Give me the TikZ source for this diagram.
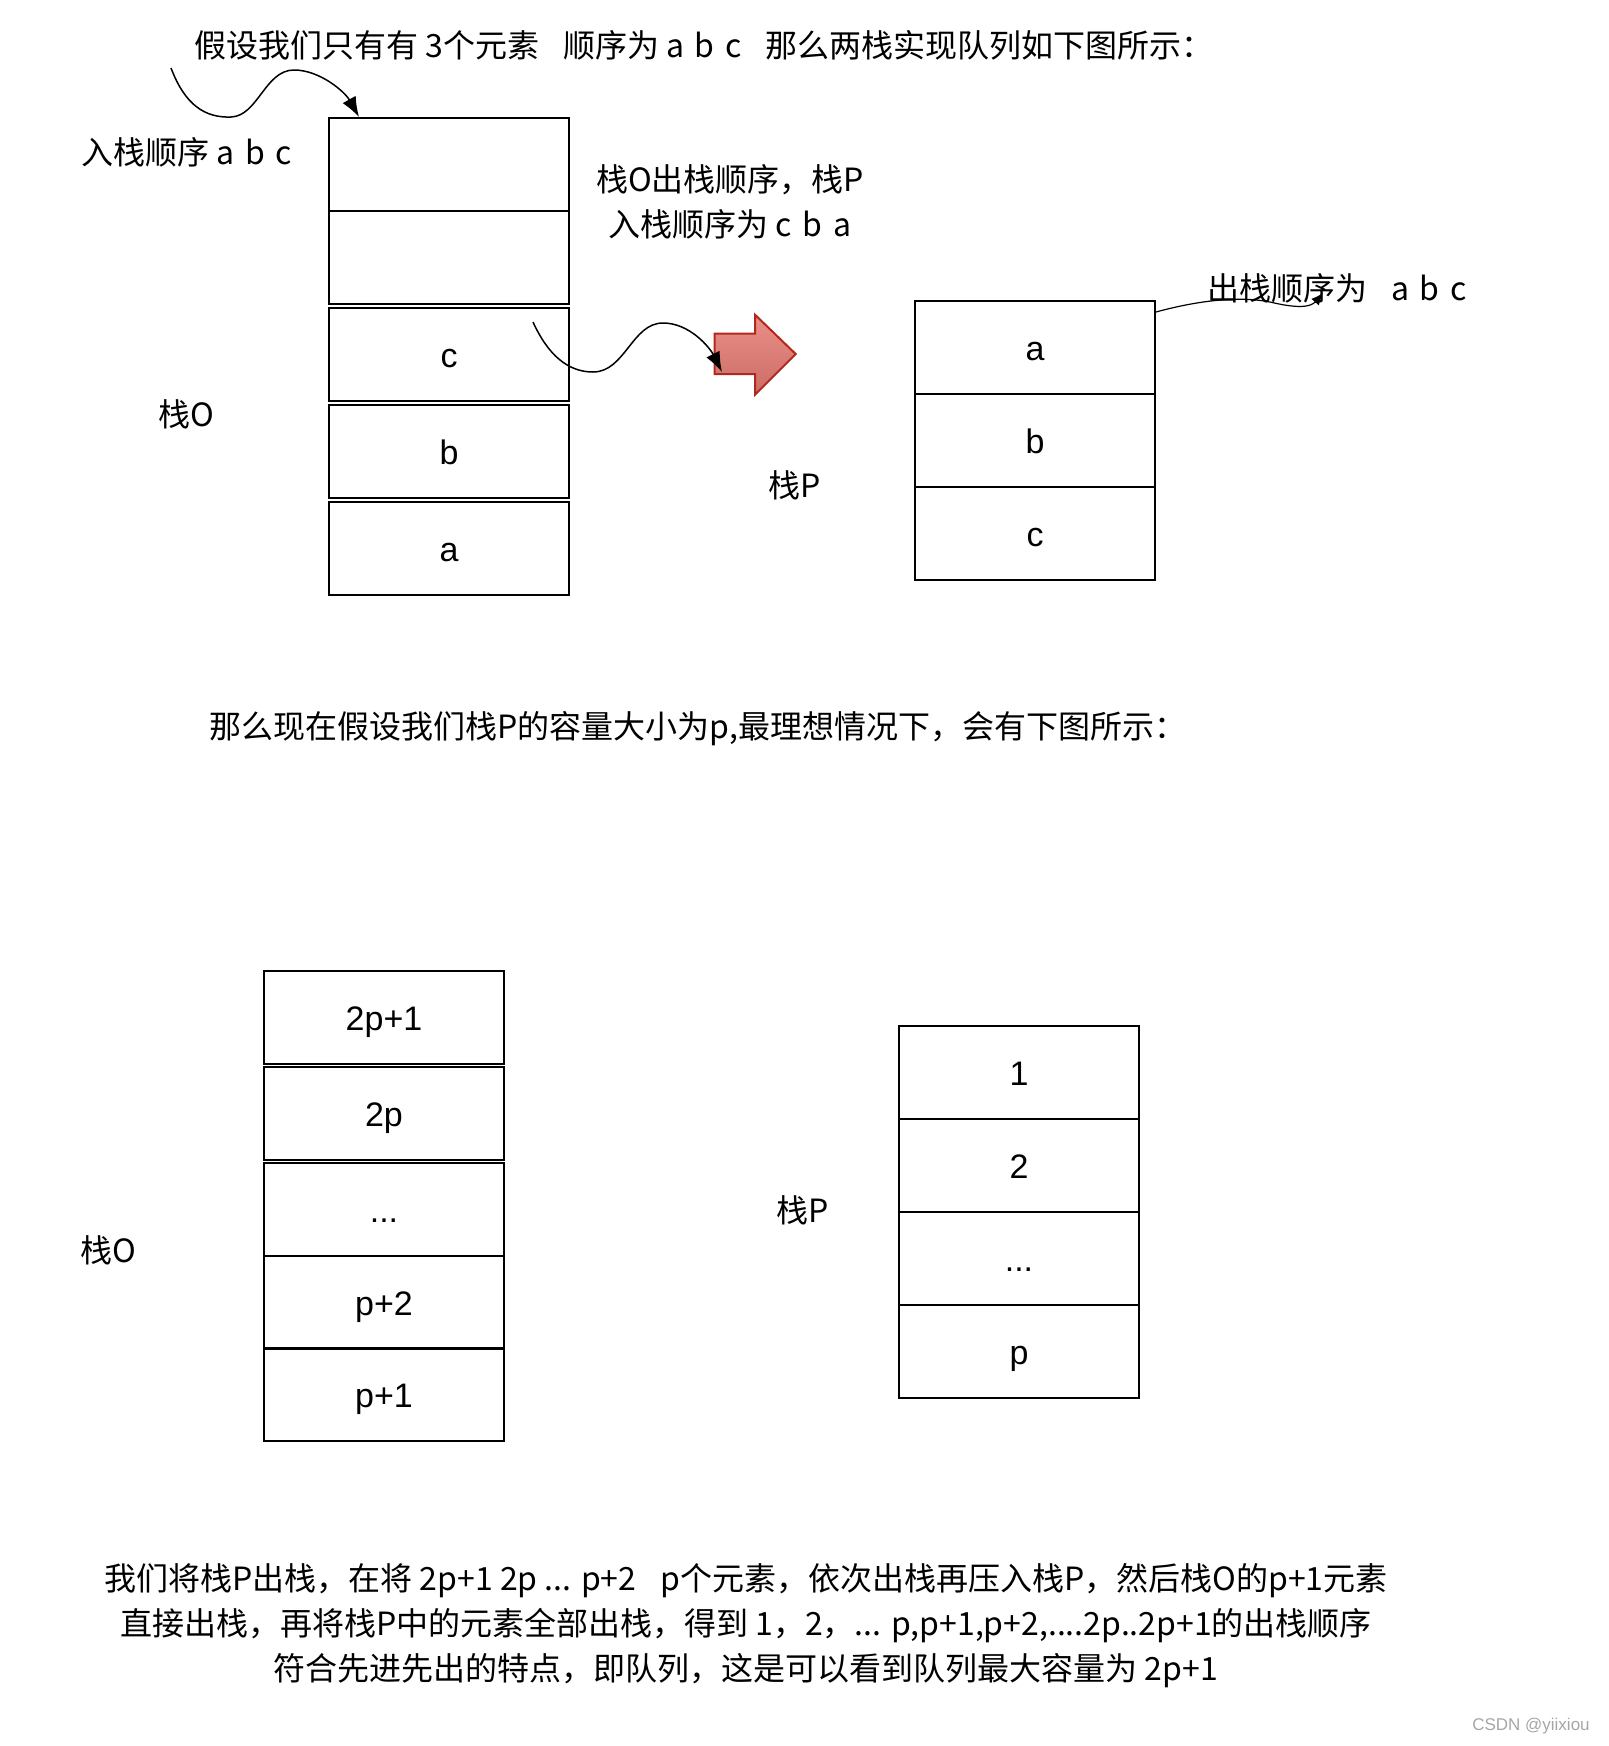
\documentclass[tikz,border=0pt]{standalone}
\usepackage{fontspec}
\setmainfont{Noto Sans CJK SC}
\newfontfamily\latinfont{Liberation Sans}
\usepackage{tikz}
\usetikzlibrary{arrows.meta}
\definecolor{arrowTop}{HTML}{EA8F88}
\definecolor{arrowBottom}{HTML}{CC6D66}
\definecolor{arrowLine}{HTML}{B3281C}

\tikzset{
	cell/.style={draw, line width=1pt, minimum width=120pt, minimum height=46.5pt, inner sep=0pt, text height=15pt, text depth=1.8pt, font=\latinfont\fontsize{17}{20}\selectfont},
	note/.style={font=\fontsize{16}{22.5}\selectfont, align=center, inner sep=0pt},
	wave/.style={line width=0.75pt, -{Latex[length=10pt,width=7.5pt]}}
}
\newcommand\gap{\hspace{0.75em}}

\begin{document}
\begin{tikzpicture}[x=0.5pt, y=-0.5pt]
	  \useasboundingbox (0,0) rectangle (1608,1746);

	  % Texts
	  \node[note] (title) at (704,45) {假设我们只有有 3个元素\gap 顺序为 a\,\,b\,\,c\gap 那么两栈实现队列如下图所示：};
	  \node[note] (pushOrder) at (187,152) {入栈顺序 a\,\,b\,\,c};
	  \node[note] (stackO) at (186,414) {栈O};
	  \node[note] (popNote) at (730,202) {栈O出栈顺序，栈P\\入栈顺序为 c\,\,b\,\,a};
	  \node[note] (popOrder) at (1337,288) {出栈顺序为\gap a\,\,b\,\,c};
	  \node[note] (stackP) at (795,485) {栈P};
	  \node[note] (midText) at (698,729) {那么现在假设我们栈P的容量大小为p,最理想情况下，会有下图所示：};
	  \node[note] (stackOlow) at (108,1250) {栈O};
	  \node[note] (stackPlow) at (803,1210) {栈P};
	  \node[note] (summary) at (746,1626) {我们将栈P出栈，在将 2p+1 2p ... p+2\gap p个元素，依次出栈再压入栈P，然后栈O的p+1元素\\直接出栈，再将栈P中的元素全部出栈，得到 1，2，... p,p+1,p+2,....2p..2p+1的出栈顺序\\符合先进先出的特点，即队列，这是可以看到队列最大容量为 2p+1};
	  \node[font=\latinfont\fontsize{8.5}{10}\selectfont, text=black!35, inner sep=0pt] (mark) at (1531,1726) {CSDN @yiixiou};

	  % Stack O, top
	  \node[cell] (O1) at (449,164.5) {};
	  \node[cell] (O2) at (449,257.5) {};
	  \node[cell] (O3) at (449,354.5) {c};
	  \node[cell] (O4) at (449,451.5) {b};
	  \node[cell] (O5) at (449,548.5) {a};

	  % Stack P, top
	  \node[cell] (P1) at (1035,347.5) {a};
	  \node[cell] (P2) at (1035,440.5) {b};
	  \node[cell] (P3) at (1035,533) {c};

	  % Stack O, bottom
	  \node[cell] (Olow1) at (384,1017) {2p+1};
	  \node[cell] (Olow2) at (384,1113) {2p};
	  \node[cell] (Olow3) at (384,1209) {...};
	  \node[cell] (Olow4) at (384,1302) {p+2};
	  \node[cell] (Olow5) at (384,1394.5) {p+1};

	  % Stack P, bottom
	  \node[cell] (Plow1) at (1019,1072) {1};
	  \node[cell] (Plow2) at (1019,1165.5) {2};
	  \node[cell] (Plow3) at (1019,1258.5) {...};
	  \node[cell] (Plow4) at (1019,1351.5) {p};

	  % Big arrow
	  \draw[arrowLine, line width=1pt, top color=arrowTop, bottom color=arrowBottom] (714.7,333.7) -- (755,333.7) -- (755,314.7) -- (795.7,354) -- (755,394.7) -- (755,374) -- (714.7,374) -- cycle;

	  % Arrows
	  \coordinate (pushIn) at (171,68);
	  \coordinate (popOut) at (533,322);
	  \coordinate (arrowIn) at (722,372);
	  \coordinate (outEnd) at (1323,293);
	  \draw[wave] (pushIn) .. controls (185,105) and (205,118) .. (231,117) .. controls (258,116) and (265,70) .. (294,70) .. controls (320,70) and (345,92) .. ([xshift=15.5pt]O1.north west); % push into stack O
	  \draw[wave] (popOut) .. controls (548,355) and (568,372) .. (593,372) .. controls (625,372) and (632,323) .. (663,323) .. controls (690,323) and (710,348) .. (arrowIn); % pop c to stack P
	  \draw[line width=0.6pt, -{Latex[length=6pt,width=5pt]}] ([yshift=-6pt]P1.north east) .. controls (1200,300) and (1240,296) .. (1270,302) .. controls (1295,308) and (1310,308) .. (outEnd); % pop from stack P
\end{tikzpicture}
\end{document}
